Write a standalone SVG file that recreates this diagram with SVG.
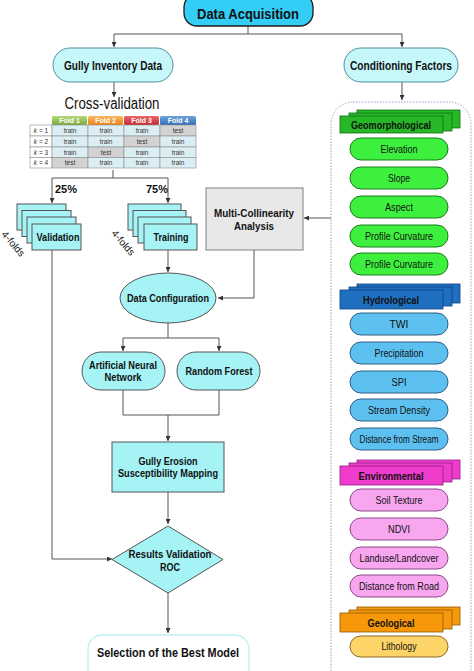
<svg xmlns="http://www.w3.org/2000/svg" width="474" height="671" viewBox="0 0 474 671">
<defs>
<marker id="ah" viewBox="0 0 6 6" refX="6" refY="3" markerWidth="5" markerHeight="5" orient="auto"><path d="M0,0 L6,3 L0,6 z" fill="#333"/></marker>
<linearGradient id="g1" x1="0" y1="0" x2="0" y2="1"><stop offset="0" stop-color="#b5d97a"/><stop offset="1" stop-color="#7aaa3a"/></linearGradient>
<linearGradient id="g2" x1="0" y1="0" x2="0" y2="1"><stop offset="0" stop-color="#fbb860"/><stop offset="1" stop-color="#ea8418"/></linearGradient>
<linearGradient id="g3" x1="0" y1="0" x2="0" y2="1"><stop offset="0" stop-color="#e8686a"/><stop offset="1" stop-color="#c42a2e"/></linearGradient>
<linearGradient id="g4" x1="0" y1="0" x2="0" y2="1"><stop offset="0" stop-color="#6fa3dc"/><stop offset="1" stop-color="#2f6fb8"/></linearGradient>
</defs>
<style>
.b{font-family:"Liberation Sans",Arial,sans-serif;font-weight:bold;fill:#111;text-anchor:middle}
.n{font-family:"Liberation Sans",Arial,sans-serif;fill:#111;text-anchor:middle}
.cy{fill:#a6f3f6;stroke:#555;stroke-width:1}
.con{fill:none;stroke:#555;stroke-width:1}
.geoH{fill:#27b827;stroke:#137013;stroke-width:0.8}
.geoI{fill:#3ef03e;stroke:#1d7a1d;stroke-width:1}
.hyH{fill:#1e6fc0;stroke:#0f3f7f;stroke-width:0.8}
.hyI{fill:#5cc0f0;stroke:#2f5f85;stroke-width:1}
.enH{fill:#ef3ccc;stroke:#8f1f7f;stroke-width:0.8}
.enI{fill:#f7a6ef;stroke:#8a4a8a;stroke-width:1}
.glH{fill:#f7980a;stroke:#8f5a00;stroke-width:0.8}
.glI{fill:#fdd468;stroke:#8a6a20;stroke-width:1}
.tr{fill:#dbeef3;stroke:#8c8c8c;stroke-width:0.6}
.te{fill:#d2d2d2;stroke:#8c8c8c;stroke-width:0.6}
.kc{fill:#fff;stroke:#8c8c8c;stroke-width:0.6}
.tt{font-family:"Liberation Sans",Arial,sans-serif;font-size:6.5px;fill:#333;text-anchor:middle}
.fh{font-family:"Liberation Sans",Arial,sans-serif;font-size:7px;fill:#fff;text-anchor:middle;font-weight:bold}
</style>

<g id="connectors" class="con">
<path d="M248,26 V34 H114 V47" marker-end="url(#ah)"/>
<path d="M248,34 H402 V47" marker-end="url(#ah)"/>
<path d="M114,82 V97" marker-end="url(#ah)"/>
<path d="M402,82 V100" marker-end="url(#ah)"/>
<path d="M113,170 V178 H52 V203" marker-end="url(#ah)"/>
<path d="M113,178 H168 V203" marker-end="url(#ah)"/>
<path d="M331,218 H304" marker-end="url(#ah)"/>
<path d="M168,250 V272" marker-end="url(#ah)"/>
<path d="M254,250 V298 H218" marker-end="url(#ah)"/>
<path d="M168,323 V338 H123 V351" marker-end="url(#ah)"/>
<path d="M168,338 H219 V351" marker-end="url(#ah)"/>
<path d="M123,390 V415 H219 V390"/>
<path d="M168,415 V441" marker-end="url(#ah)"/>
<path d="M168,492 V524" marker-end="url(#ah)"/>
<path d="M52,250 V559 H112" marker-end="url(#ah)"/>
<path d="M168,593 V633" marker-end="url(#ah)"/>
</g>

<g id="data-acquisition">
<rect x="184" y="-6" width="129" height="32" rx="13" fill="#33cdf5" stroke="#1a1a1a" stroke-width="1.3"/>
<text class="b" x="248" y="19" font-size="15" textLength="102" lengthAdjust="spacingAndGlyphs">Data Acquisition</text>
</g>

<g id="gully-inventory-data">
<rect x="53" y="48" width="120" height="34" rx="17" fill="#c6f7f9" stroke="#4f8f9f" stroke-width="1"/>
<text class="b" x="113" y="70" font-size="12" textLength="98" lengthAdjust="spacingAndGlyphs">Gully Inventory Data</text>
</g>

<g id="conditioning-factors">
<rect x="344" y="48" width="114" height="34" rx="17" fill="#c6f7f9" stroke="#4f8f9f" stroke-width="1"/>
<text class="b" x="401" y="70" font-size="12" textLength="102" lengthAdjust="spacingAndGlyphs">Conditioning Factors</text>
</g>

<g id="cross-validation">
<text class="n" x="112" y="109" font-family="'Open Sans','Liberation Sans',sans-serif" font-size="16" textLength="95" lengthAdjust="spacingAndGlyphs">Cross-validation</text>
<rect x="52" y="116" width="35" height="9" rx="1.5" fill="url(#g1)"/>
<rect x="88" y="116" width="35" height="9" rx="1.5" fill="url(#g2)"/>
<rect x="124" y="116" width="35" height="9" rx="1.5" fill="url(#g3)"/>
<rect x="160" y="116" width="36" height="9" rx="1.5" fill="url(#g4)"/>
<text class="fh" x="69.5" y="123">Fold 1</text>
<text class="fh" x="105.5" y="123">Fold 2</text>
<text class="fh" x="141.5" y="123">Fold 3</text>
<text class="fh" x="178" y="123">Fold 4</text>
<rect class="kc" x="30" y="125" width="22" height="11"/>
<rect class="kc" x="30" y="136" width="22" height="11"/>
<rect class="kc" x="30" y="147" width="22" height="10.5"/>
<rect class="kc" x="30" y="157.5" width="22" height="10.5"/>
<rect class="tr" x="52" y="125" width="36" height="11"/><rect class="tr" x="88" y="125" width="36" height="11"/><rect class="tr" x="124" y="125" width="36" height="11"/><rect class="te" x="160" y="125" width="36" height="11"/>
<rect class="tr" x="52" y="136" width="36" height="11"/><rect class="tr" x="88" y="136" width="36" height="11"/><rect class="te" x="124" y="136" width="36" height="11"/><rect class="tr" x="160" y="136" width="36" height="11"/>
<rect class="tr" x="52" y="147" width="36" height="10.5"/><rect class="te" x="88" y="147" width="36" height="10.5"/><rect class="tr" x="124" y="147" width="36" height="10.5"/><rect class="tr" x="160" y="147" width="36" height="10.5"/>
<rect class="te" x="52" y="157.5" width="36" height="10.5"/><rect class="tr" x="88" y="157.5" width="36" height="10.5"/><rect class="tr" x="124" y="157.5" width="36" height="10.5"/><rect class="tr" x="160" y="157.5" width="36" height="10.5"/>
<text class="tt" x="41" y="133"><tspan font-style="italic">k</tspan> = 1</text>
<text class="tt" x="41" y="144"><tspan font-style="italic">k</tspan> = 2</text>
<text class="tt" x="41" y="155"><tspan font-style="italic">k</tspan> = 3</text>
<text class="tt" x="41" y="165"><tspan font-style="italic">k</tspan> = 4</text>
<text class="tt" x="70" y="133">train</text><text class="tt" x="106" y="133">train</text><text class="tt" x="142" y="133">train</text><text class="tt" x="178" y="133">test</text>
<text class="tt" x="70" y="144">train</text><text class="tt" x="106" y="144">train</text><text class="tt" x="142" y="144">test</text><text class="tt" x="178" y="144">train</text>
<text class="tt" x="70" y="155">train</text><text class="tt" x="106" y="155">test</text><text class="tt" x="142" y="155">train</text><text class="tt" x="178" y="155">train</text>
<text class="tt" x="70" y="165">test</text><text class="tt" x="106" y="165">train</text><text class="tt" x="142" y="165">train</text><text class="tt" x="178" y="165">train</text>
</g>

<g id="labels-split">
<text class="b" x="66" y="193" font-size="11">25%</text>
<text class="b" x="157" y="193" font-size="11">75%</text>
</g>

<g id="validation">
<rect class="cy" x="17" y="204" width="49" height="26"/>
<rect class="cy" x="22" y="210.5" width="49" height="26"/>
<rect class="cy" x="27" y="217" width="49" height="26"/>
<rect class="cy" x="32" y="224" width="49" height="26"/>
<text class="b" x="58" y="241" font-size="11" textLength="43" lengthAdjust="spacingAndGlyphs">Validation</text>
<text class="n" font-size="10" transform="translate(13,244) rotate(50)" y="3">4-folds</text>
</g>

<g id="training">
<rect class="cy" x="128" y="204" width="53" height="26"/>
<rect class="cy" x="133" y="210.5" width="53" height="26"/>
<rect class="cy" x="138" y="217" width="53" height="26"/>
<rect class="cy" x="144" y="224" width="53" height="26"/>
<text class="b" x="171" y="241" font-size="11" textLength="35" lengthAdjust="spacingAndGlyphs">Training</text>
<text class="n" font-size="10" transform="translate(123,243) rotate(50)" y="3">4-folds</text>
</g>

<g id="multi-collinearity">
<rect x="206" y="188" width="97" height="62" fill="#e8e8e8" stroke="#808080" stroke-width="1"/>
<text class="b" x="254" y="217" font-size="11" textLength="80" lengthAdjust="spacingAndGlyphs">Multi-Collinearity</text>
<text class="b" x="254" y="230" font-size="11" textLength="40" lengthAdjust="spacingAndGlyphs">Analysis</text>
</g>

<g id="data-configuration">
<ellipse class="cy" cx="168" cy="298" rx="48" ry="25"/>
<text class="b" x="168" y="302" font-size="11" textLength="82" lengthAdjust="spacingAndGlyphs">Data Configuration</text>
</g>

<g id="ann">
<rect class="cy" x="82" y="352" width="83" height="38" rx="19"/>
<text class="b" x="123" y="369" font-size="11" textLength="68" lengthAdjust="spacingAndGlyphs">Artificial Neural</text>
<text class="b" x="123" y="381" font-size="11" textLength="37" lengthAdjust="spacingAndGlyphs">Network</text>
</g>

<g id="random-forest">
<rect class="cy" x="177" y="352" width="83" height="38" rx="19"/>
<text class="b" x="219" y="375" font-size="11" textLength="67" lengthAdjust="spacingAndGlyphs">Random Forest</text>
</g>

<g id="gesm">
<rect class="cy" x="112" y="442" width="112" height="50"/>
<text class="b" x="168" y="465" font-size="11" textLength="59" lengthAdjust="spacingAndGlyphs">Gully Erosion</text>
<text class="b" x="168" y="477" font-size="11" textLength="100" lengthAdjust="spacingAndGlyphs">Susceptibility Mapping</text>
</g>

<g id="results-validation">
<polygon class="cy" points="168,526 223,559.5 168,593 112,559.5"/>
<text class="b" x="170" y="558" font-size="11" textLength="83" lengthAdjust="spacingAndGlyphs">Results Validation</text>
<text class="b" x="170" y="571" font-size="11" textLength="20" lengthAdjust="spacingAndGlyphs">ROC</text>
</g>

<g id="best-model">
<rect x="88" y="635" width="161" height="50" rx="14" fill="#fff" stroke="#bfeff5" stroke-width="1.3"/>
<text class="b" x="168" y="657" font-size="13" textLength="142" lengthAdjust="spacingAndGlyphs">Selection of the Best Model</text>
</g>

<g id="factors-container">
<rect x="331" y="102" width="140" height="590" rx="22" fill="none" stroke="#8fa6c4" stroke-width="1" stroke-dasharray="1.5 1.5"/>
</g>

<g id="geomorphological">
<rect class="geoH" x="357" y="110" width="103" height="18"/>
<rect class="geoH" x="349" y="113" width="103" height="18"/>
<rect class="geoH" x="340" y="116" width="103" height="17"/>
<text class="b" x="391" y="129" font-size="11" textLength="80" lengthAdjust="spacingAndGlyphs">Geomorphological</text>
</g>
<g id="elevation"><rect class="geoI" x="350" y="138" width="98" height="22" rx="11"/><text class="n" x="399" y="153" font-size="10.5" textLength="37" lengthAdjust="spacingAndGlyphs">Elevation</text></g>
<g id="slope"><rect class="geoI" x="350" y="167" width="98" height="22" rx="11"/><text class="n" x="399" y="182" font-size="10.5" textLength="22" lengthAdjust="spacingAndGlyphs">Slope</text></g>
<g id="aspect"><rect class="geoI" x="350" y="196" width="98" height="22" rx="11"/><text class="n" x="399" y="211" font-size="10.5" textLength="28" lengthAdjust="spacingAndGlyphs">Aspect</text></g>
<g id="profile-curvature-1"><rect class="geoI" x="350" y="225" width="98" height="22" rx="11"/><text class="n" x="399" y="240" font-size="10.5" textLength="68" lengthAdjust="spacingAndGlyphs">Profile Curvature</text></g>
<g id="profile-curvature-2"><rect class="geoI" x="350" y="253" width="98" height="22" rx="11"/><text class="n" x="399" y="268" font-size="10.5" textLength="68" lengthAdjust="spacingAndGlyphs">Profile Curvature</text></g>

<g id="hydrological">
<rect class="hyH" x="357" y="284" width="103" height="19"/>
<rect class="hyH" x="349" y="287" width="103" height="19"/>
<rect class="hyH" x="340" y="290" width="103" height="19"/>
<text class="b" x="391" y="304" font-size="11" textLength="56" lengthAdjust="spacingAndGlyphs">Hydrological</text>
</g>
<g id="twi"><rect class="hyI" x="350" y="313" width="98" height="22" rx="11"/><text class="n" x="399" y="328" font-size="10.5" textLength="19" lengthAdjust="spacingAndGlyphs">TWI</text></g>
<g id="precipitation"><rect class="hyI" x="350" y="342" width="98" height="22" rx="11"/><text class="n" x="399" y="357" font-size="10.5" textLength="49" lengthAdjust="spacingAndGlyphs">Precipitation</text></g>
<g id="spi"><rect class="hyI" x="350" y="371" width="98" height="22" rx="11"/><text class="n" x="399" y="386" font-size="10.5" textLength="15" lengthAdjust="spacingAndGlyphs">SPI</text></g>
<g id="stream-density"><rect class="hyI" x="350" y="399" width="98" height="22" rx="11"/><text class="n" x="399" y="414" font-size="10.5" textLength="62" lengthAdjust="spacingAndGlyphs">Stream Density</text></g>
<g id="distance-from-stream"><rect class="hyI" x="350" y="428" width="98" height="22" rx="11"/><text class="n" x="399" y="443" font-size="10" textLength="79" lengthAdjust="spacingAndGlyphs">Distance from Stream</text></g>

<g id="environmental">
<rect class="enH" x="357" y="460" width="103" height="19"/>
<rect class="enH" x="349" y="463" width="103" height="19"/>
<rect class="enH" x="340" y="466" width="103" height="19"/>
<text class="b" x="391" y="480" font-size="11" textLength="65" lengthAdjust="spacingAndGlyphs">Environmental</text>
</g>
<g id="soil-texture"><rect class="enI" x="350" y="489" width="98" height="22" rx="11"/><text class="n" x="399" y="504" font-size="10.5" textLength="47" lengthAdjust="spacingAndGlyphs">Soil Texture</text></g>
<g id="ndvi"><rect class="enI" x="350" y="518" width="98" height="22" rx="11"/><text class="n" x="399" y="533" font-size="10.5" textLength="22" lengthAdjust="spacingAndGlyphs">NDVI</text></g>
<g id="landuse"><rect class="enI" x="350" y="547" width="98" height="22" rx="11"/><text class="n" x="399" y="562" font-size="10.5" textLength="79" lengthAdjust="spacingAndGlyphs">Landuse/Landcover</text></g>
<g id="distance-from-road"><rect class="enI" x="350" y="575" width="98" height="22" rx="11"/><text class="n" x="399" y="590" font-size="10.5" textLength="80" lengthAdjust="spacingAndGlyphs">Distance from Road</text></g>

<g id="geological">
<rect class="glH" x="357" y="607" width="103" height="18"/>
<rect class="glH" x="349" y="610" width="103" height="19"/>
<rect class="glH" x="340" y="613" width="103" height="19"/>
<text class="b" x="391" y="627" font-size="11" textLength="47" lengthAdjust="spacingAndGlyphs">Geological</text>
</g>
<g id="lithology"><rect class="glI" x="350" y="636" width="98" height="21" rx="10.5"/><text class="n" x="399" y="650" font-size="10.5" textLength="35" lengthAdjust="spacingAndGlyphs">Lithology</text></g>
</svg>
